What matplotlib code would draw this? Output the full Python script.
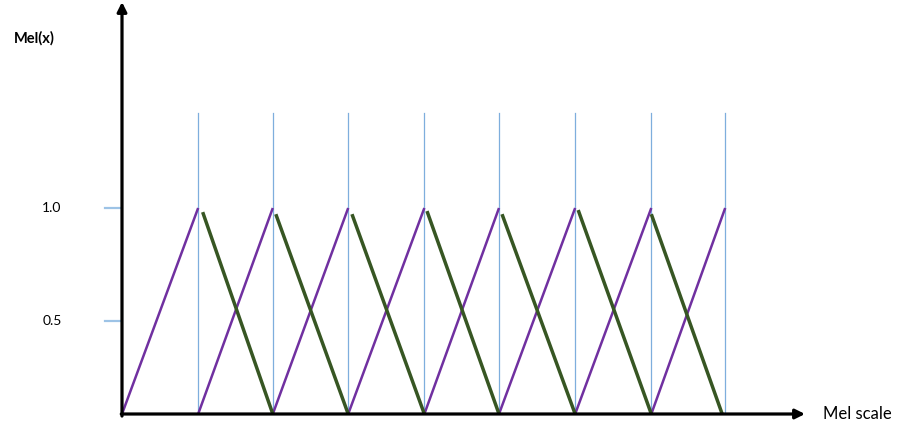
import matplotlib
matplotlib.use("Agg")
import matplotlib.pyplot as plt

# ---- data ----
peaks = [1.01, 2.0, 3.0, 4.01, 5.0, 6.01, 7.02, 8.0]          # filter centres (purple peaks)
rise_start = [0.0, 1.01, 2.0, 3.0, 4.01, 5.0, 6.01, 7.02]      # purple line starts (y = 0)
green_start_x = [1.07, 2.04, 3.05, 4.045, 5.04, 6.05, 7.02]
green_start_y = [0.98, 0.97, 0.97, 0.985, 0.97, 0.99, 0.97]
green_end_x = [2.0, 3.0, 4.01, 5.0, 6.01, 7.02, 7.96]
grid_top = 1.46
tick_pos = [1.0, 0.45]
tick_labels = ["1.0", "0.5"]
ylabel = "Mel(x)"
xlabel = "Mel scale"

W, H = 908, 442
fig = plt.figure(figsize=(W / 100, H / 100), dpi=100)
x0, y0, x1, y1 = 122, 414, 805, 2
ax = fig.add_axes([x0 / W, (H - y0) / H, (x1 - x0) / W, (y0 - y1) / H])
ax.set_xlim(0, (x1 - x0) / 75.4)
ax.set_ylim(0, (y0 - y1) / 206.0)
ax.axis("off")

font = ["Lato", "DejaVu Sans"]

# vertical light-blue lines
for p in peaks:
    ax.plot([p, p], [0, grid_top], color="#7EAEDD", lw=0.9, zorder=1)

# purple rising lines
for s, p in zip(rise_start, peaks):
    ax.plot([s, p], [0, 1.0], color="#7030A0", lw=1.8, zorder=3, solid_capstyle="butt")

# green falling lines
for gx, gy, ge in zip(green_start_x, green_start_y, green_end_x):
    ax.plot([gx, ge], [gy, 0], color="#375623", lw=2.5, zorder=3, solid_capstyle="butt")

# y tick marks and labels
for tp, tl in zip(tick_pos, tick_labels):
    ax.plot([-0.225, -0.01], [tp, tp], color="#9DC3E6", lw=1.6, clip_on=False, zorder=2)
    ax.text(-0.93, tp, tl, ha="center", va="center", fontsize=10, family=font)

# axes with arrows
xmax = ax.get_xlim()[1]
ymax = ax.get_ylim()[1]
ax.annotate("", xy=(xmax, 0), xytext=(-0.01, 0), annotation_clip=False,
            arrowprops=dict(arrowstyle="-|>", lw=2.3, color="black",
                            mutation_scale=14, shrinkA=0, shrinkB=0))
ax.annotate("", xy=(0, ymax), xytext=(0, -0.01), annotation_clip=False,
            arrowprops=dict(arrowstyle="-|>", lw=2.3, color="black",
                            mutation_scale=14, shrinkA=0, shrinkB=0))

# axis labels
fig.text(14 / W, 1 - 38 / H, ylabel, ha="left", va="center", fontsize=10.5,
         fontweight="bold", family=font)
fig.text(823 / W, 1 - 414 / H, xlabel, ha="left", va="center", fontsize=12, family=font)

fig.savefig("out.png", dpi=100)
